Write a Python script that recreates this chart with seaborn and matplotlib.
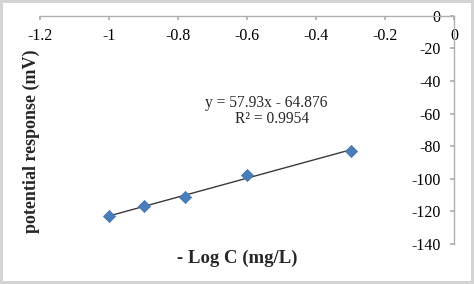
import matplotlib
matplotlib.use("Agg")
import matplotlib.pyplot as plt
import seaborn as sns
import numpy as np
import pandas as pd

# Data
log_c = [-1.0, -0.9, -0.78, -0.6, -0.3]
response = [-122.8, -116.7, -111.0, -97.7, -82.8]
slope = 57.93
intercept = -64.876
r_squared = 0.9954
x_ticks = [-1.2, -1, -0.8, -0.6, -0.4, -0.2, 0]
x_tick_labels = ["-1.2", "-1", "-0.8", "-0.6", "-0.4", "-0.2", "0"]
y_ticks = [0, -20, -40, -60, -80, -100, -120, -140]
y_tick_labels = ["0", "-20", "-40", "-60", "-80", "-100", "-120", "-140"]

sns.set_theme(style="white")
plt.rcParams["font.family"] = ["Liberation Serif", "DejaVu Serif"]

df = pd.DataFrame({"x": log_c, "y": response})
trend_x = [min(log_c), max(log_c)]
trend = pd.DataFrame({"x": trend_x, "y": [slope * v + intercept for v in trend_x]})

fig = plt.figure(figsize=(4.74, 2.84), dpi=100)
fig.patch.set_facecolor("white")
fig.patch.set_edgecolor("#d4d4d4")
fig.patch.set_linewidth(4)
ax = fig.add_axes([40/474, 1-244/284, 414/474, (244-15.7)/284])

sns.lineplot(data=trend, x="x", y="y", ax=ax, color="#3a3a3a", linewidth=1.0, zorder=2)
sns.scatterplot(data=df, x="x", y="y", ax=ax, marker="D", s=38, color="#4a7ebb",
                edgecolor="#3d6ea8", linewidth=0.5, zorder=3)

ax.set_xlim(-1.2, 0)
ax.set_ylim(-140, 0)
ax.spines["top"].set_visible(False)
ax.spines["right"].set_visible(False)
ax.spines["bottom"].set_position(("data", 0))
ax.spines["left"].set_position(("data", 0))
for s in ("bottom", "left"):
    ax.spines[s].set_color("#b0b0b0")
    ax.spines[s].set_linewidth(1.0)

ax.set_xticks(x_ticks)
ax.set_xticklabels(x_tick_labels)
ax.set_yticks(y_ticks)
ax.set_yticklabels(y_tick_labels)
ax.tick_params(axis="x", bottom=True, direction="out", length=3, color="#b0b0b0",
               pad=6, labelsize=11.5, labelcolor="black")
ax.tick_params(axis="y", left=True, direction="out", length=3, color="#b0b0b0",
               pad=6.5, labelsize=11.5, labelcolor="black")
ax.set_xlabel("")
ax.set_ylabel("")
ax.grid(False)

fig.text(237/474, 1-258/284, "- Log C (mg/L)", ha="center", va="center",
         fontsize=13.5, fontweight="bold")
fig.text(31/474, 1-141/284, "potential response (mV)", ha="center", va="center",
         rotation=90, fontsize=13, fontweight="bold")
fig.text(266/474, 1-103/284, f"y = {slope}x - {abs(intercept)}", ha="center", va="center",
         fontsize=11.2)
fig.text(272/474, 1-119/284, f"R² = {r_squared}", ha="center", va="center",
         fontsize=11.2)

fig.savefig("out.png", dpi=100, facecolor=fig.get_facecolor(), edgecolor=fig.get_edgecolor())
